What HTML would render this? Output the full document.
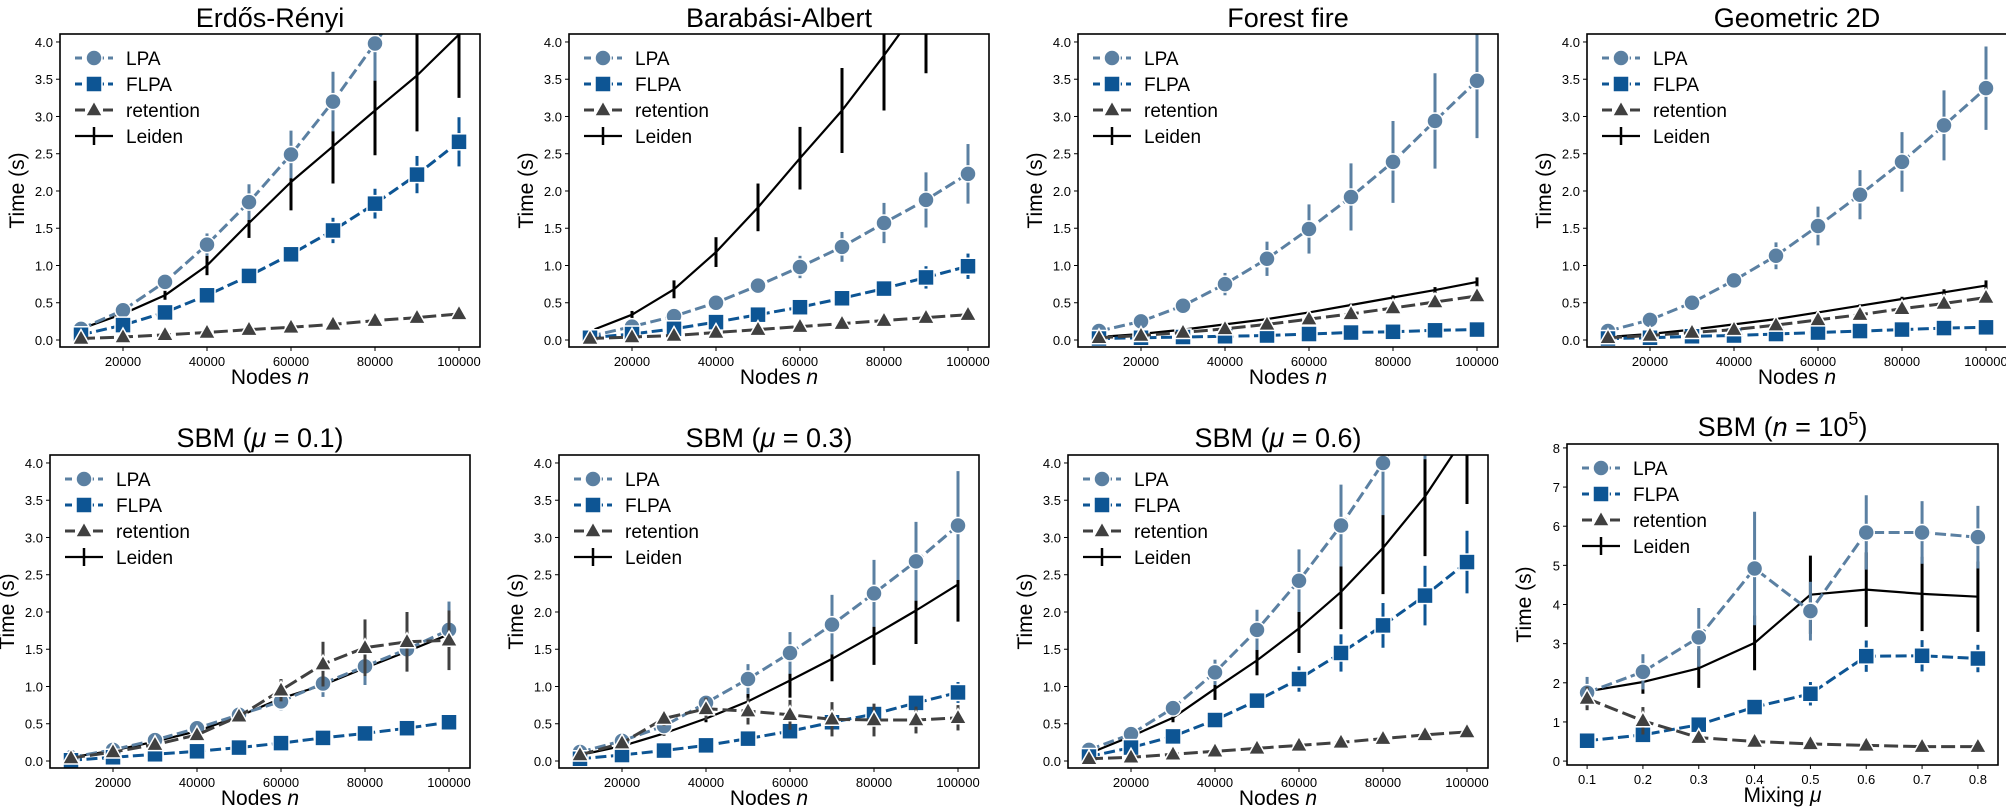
<!DOCTYPE html>
<html><head><meta charset="utf-8"><style>
html,body{margin:0;padding:0;background:#fff;}
svg{display:block;font-family:"Liberation Sans",sans-serif;}
</style></head><body>
<svg id="fig" width="2006" height="812" viewBox="0 0 2006 812" xmlns="http://www.w3.org/2000/svg"></svg>
<script>
// ---------- DATA ----------
const nodes = [10000,20000,30000,40000,50000,60000,70000,80000,90000,100000];
const mixing = [0.1,0.2,0.3,0.4,0.5,0.6,0.7,0.8];
const seriesNames = ["LPA","FLPA","retention","Leiden"];
const titles = ["Erdős-Rényi","Barabási-Albert","Forest fire","Geometric 2D","SBM (μ = 0.1)","SBM (μ = 0.3)","SBM (μ = 0.6)","SBM (n = 10^5)"];
const yTicksTime = [0,0.5,1,1.5,2,2.5,3,3.5,4];
const yTicksMix = [0,1,2,3,4,5,6,7,8];
const xTicksNodes = [20000,40000,60000,80000,100000];

// Erdős-Rényi
const er_lpa = [0.15,0.40,0.78,1.28,1.85,2.49,3.20,3.98,4.8,5.6];
const er_lpa_err = [0.03,0.04,0.06,0.15,0.24,0.32,0.40,0.50,0.6,0.7];
const er_flpa = [0.07,0.20,0.37,0.60,0.86,1.15,1.47,1.83,2.22,2.66];
const er_flpa_err = [0.01,0.02,0.03,0.04,0.06,0.1,0.17,0.2,0.25,0.33];
const er_ret = [0.02,0.04,0.07,0.10,0.14,0.17,0.21,0.26,0.30,0.35];
const er_ret_err = [0,0,0,0,0,0,0,0,0,0];
const er_lei = [0.15,0.35,0.60,1.00,1.57,2.12,2.60,3.08,3.55,4.10];
const er_lei_err = [0.02,0.04,0.06,0.13,0.2,0.38,0.5,0.6,0.75,0.85];
// Barabási-Albert
const ba_lpa = [0.05,0.18,0.32,0.50,0.73,0.98,1.25,1.57,1.88,2.23];
const ba_lpa_err = [0.01,0.02,0.03,0.05,0.08,0.15,0.2,0.27,0.37,0.4];
const ba_flpa = [0.03,0.08,0.15,0.24,0.34,0.44,0.56,0.69,0.84,0.99];
const ba_flpa_err = [0,0.01,0.02,0.03,0.04,0.06,0.08,0.1,0.15,0.17];
const ba_ret = [0.02,0.04,0.06,0.10,0.14,0.18,0.22,0.26,0.30,0.34];
const ba_ret_err = [0,0,0,0,0,0,0,0,0,0];
const ba_lei = [0.12,0.34,0.68,1.18,1.78,2.44,3.08,3.82,4.6,5.5];
const ba_lei_err = [0.02,0.05,0.12,0.2,0.32,0.42,0.57,0.74,1.02,1.2];
// Forest fire
const ff_lpa = [0.12,0.25,0.46,0.75,1.09,1.49,1.92,2.39,2.94,3.48];
const ff_lpa_err = [0.02,0.03,0.05,0.15,0.23,0.33,0.45,0.55,0.64,0.77];
const ff_flpa = [0.02,0.03,0.04,0.05,0.06,0.08,0.10,0.11,0.13,0.14];
const ff_flpa_err = [0,0,0,0,0,0,0,0,0,0];
const ff_ret = [0.03,0.06,0.10,0.15,0.21,0.28,0.35,0.43,0.51,0.59];
const ff_ret_err = [0,0,0,0,0,0,0,0,0,0];
const ff_lei = [0.04,0.08,0.14,0.21,0.28,0.37,0.47,0.57,0.67,0.78];
const ff_lei_err = [0,0,0,0.01,0.01,0.02,0.02,0.03,0.04,0.06];
// Geometric 2D
const geo_lpa = [0.12,0.27,0.50,0.80,1.13,1.53,1.95,2.39,2.88,3.38];
const geo_lpa_err = [0.02,0.03,0.04,0.06,0.18,0.26,0.33,0.4,0.47,0.56];
const geo_flpa = [0.02,0.03,0.05,0.06,0.08,0.10,0.12,0.14,0.16,0.17];
const geo_flpa_err = [0,0,0,0,0,0,0,0,0,0];
const geo_ret = [0.03,0.06,0.10,0.14,0.20,0.27,0.34,0.42,0.49,0.57];
const geo_ret_err = [0,0,0,0,0,0,0,0,0,0];
const geo_lei = [0.04,0.08,0.14,0.21,0.28,0.37,0.46,0.55,0.64,0.73];
const geo_lei_err = [0,0,0,0.01,0.01,0.02,0.02,0.03,0.04,0.07];
// SBM mu=0.1
const s1_lpa = [0.05,0.15,0.28,0.44,0.62,0.80,1.04,1.27,1.50,1.76];
const s1_lpa_err = [0.01,0.03,0.04,0.06,0.08,0.12,0.18,0.25,0.3,0.38];
const s1_flpa = [0.01,0.05,0.09,0.13,0.18,0.24,0.31,0.37,0.44,0.52];
const s1_flpa_err = [0,0,0,0,0,0,0,0,0,0];
const s1_ret = [0.04,0.12,0.22,0.35,0.60,0.95,1.30,1.52,1.60,1.62];
const s1_ret_err = [0.01,0.02,0.03,0.04,0.06,0.15,0.3,0.38,0.4,0.4];
const s1_lei = [0.05,0.14,0.26,0.40,0.60,0.84,1.02,1.25,1.47,1.70];
const s1_lei_err = [0,0,0,0,0,0,0,0,0,0];
// SBM mu=0.3
const s3_lpa = [0.12,0.27,0.47,0.78,1.10,1.45,1.83,2.25,2.68,3.16];
const s3_lpa_err = [0.02,0.03,0.05,0.1,0.2,0.28,0.4,0.45,0.53,0.73];
const s3_flpa = [0.03,0.08,0.14,0.21,0.30,0.40,0.52,0.63,0.78,0.92];
const s3_flpa_err = [0,0,0,0.01,0.02,0.03,0.04,0.06,0.1,0.14];
const s3_ret = [0.08,0.24,0.57,0.70,0.67,0.62,0.56,0.55,0.55,0.58];
const s3_ret_err = [0.02,0.04,0.1,0.15,0.18,0.2,0.23,0.22,0.18,0.17];
const s3_lei = [0.08,0.20,0.37,0.57,0.80,1.08,1.37,1.69,2.02,2.37];
const s3_lei_err = [0.01,0.02,0.03,0.05,0.1,0.23,0.3,0.4,0.45,0.5];
// SBM mu=0.6
const s6_lpa = [0.15,0.36,0.71,1.19,1.76,2.42,3.16,4.0,4.9,5.8];
const s6_lpa_err = [0.02,0.04,0.08,0.17,0.27,0.42,0.55,0.7,0.85,1.0];
const s6_flpa = [0.06,0.18,0.33,0.55,0.81,1.10,1.45,1.82,2.22,2.67];
const s6_flpa_err = [0.01,0.02,0.04,0.06,0.1,0.17,0.25,0.3,0.4,0.42];
const s6_ret = [0.03,0.05,0.09,0.13,0.17,0.21,0.25,0.30,0.35,0.39];
const s6_ret_err = [0,0,0,0,0,0,0,0,0,0];
const s6_lei = [0.10,0.33,0.58,0.97,1.35,1.78,2.27,2.86,3.55,4.4];
const s6_lei_err = [0.01,0.04,0.06,0.15,0.2,0.33,0.5,0.62,0.8,0.95];
// SBM n=10^5 vs mixing
const sm_lpa = [1.75,2.28,3.16,4.92,3.83,5.84,5.84,5.72];
const sm_lpa_err = [0.4,0.45,0.75,1.45,0.75,0.95,0.8,0.8];
const sm_flpa = [0.52,0.67,0.93,1.38,1.72,2.68,2.69,2.62];
const sm_flpa_err = [0.05,0.08,0.12,0.15,0.3,0.4,0.4,0.35];
const sm_ret = [1.60,1.03,0.60,0.50,0.44,0.40,0.37,0.37];
const sm_ret_err = [0.3,0.35,0.05,0.03,0.03,0.03,0.03,0.03];
const sm_lei = [1.78,2.02,2.37,3.02,4.25,4.38,4.27,4.20];
const sm_lei_err = [0.1,0.3,0.5,0.7,1.0,0.95,0.95,0.9];

// ---------- LAYOUT ----------
const panels = [
 {x:nodes, s:[[er_lpa,er_lpa_err],[er_flpa,er_flpa_err],[er_ret,er_ret_err],[er_lei,er_lei_err]], L:60,T:34,W:420,H:313,xl:[5000,105000],yl:[-0.094,4.107],xt:xTicksNodes,yt:yTicksTime,ty:27,xlab:"nodes"},
 {x:nodes, s:[[ba_lpa,ba_lpa_err],[ba_flpa,ba_flpa_err],[ba_ret,ba_ret_err],[ba_lei,ba_lei_err]], L:569,T:34,W:420,H:313,xl:[5000,105000],yl:[-0.094,4.107],xt:xTicksNodes,yt:yTicksTime,ty:27,xlab:"nodes"},
 {x:nodes, s:[[ff_lpa,ff_lpa_err],[ff_flpa,ff_flpa_err],[ff_ret,ff_ret_err],[ff_lei,ff_lei_err]], L:1078,T:34,W:420,H:313,xl:[5000,105000],yl:[-0.094,4.107],xt:xTicksNodes,yt:yTicksTime,ty:27,xlab:"nodes"},
 {x:nodes, s:[[geo_lpa,geo_lpa_err],[geo_flpa,geo_flpa_err],[geo_ret,geo_ret_err],[geo_lei,geo_lei_err]], L:1587,T:34,W:420,H:313,xl:[5000,105000],yl:[-0.094,4.107],xt:xTicksNodes,yt:yTicksTime,ty:27,xlab:"nodes"},
 {x:nodes, s:[[s1_lpa,s1_lpa_err],[s1_flpa,s1_flpa_err],[s1_ret,s1_ret_err],[s1_lei,s1_lei_err]], L:50,T:455,W:420,H:313,xl:[5000,105000],yl:[-0.094,4.107],xt:xTicksNodes,yt:yTicksTime,ty:447,xlab:"nodes"},
 {x:nodes, s:[[s3_lpa,s3_lpa_err],[s3_flpa,s3_flpa_err],[s3_ret,s3_ret_err],[s3_lei,s3_lei_err]], L:559,T:455,W:420,H:313,xl:[5000,105000],yl:[-0.094,4.107],xt:xTicksNodes,yt:yTicksTime,ty:447,xlab:"nodes"},
 {x:nodes, s:[[s6_lpa,s6_lpa_err],[s6_flpa,s6_flpa_err],[s6_ret,s6_ret_err],[s6_lei,s6_lei_err]], L:1068,T:455,W:420,H:313,xl:[5000,105000],yl:[-0.094,4.107],xt:xTicksNodes,yt:yTicksTime,ty:447,xlab:"nodes"},
 {x:mixing, s:[[sm_lpa,sm_lpa_err],[sm_flpa,sm_flpa_err],[sm_ret,sm_ret_err],[sm_lei,sm_lei_err]], L:1567,T:444,W:431,H:321,xl:[0.064,0.836],yl:[-0.1,8.1],xt:mixing,yt:yTicksMix,ty:436,xlab:"mixing"}
];
const styles = [
 {c:"#5b80a2", dash:"11,4.5", w:3, m:"circle"},
 {c:"#0d5594", dash:"11,4.5", w:3, m:"square"},
 {c:"#404040", dash:"14,5", w:3, m:"triangle"},
 {c:"#000000", dash:"", w:2.2, m:"none"}
];
const NS="http://www.w3.org/2000/svg";
const svg=document.getElementById('fig');
function mk(tag,attrs,parent){const e=document.createElementNS(NS,tag);for(const k in attrs)e.setAttribute(k,attrs[k]);(parent||svg).appendChild(e);return e;}
function marker(g,type,cx,cy,col){
  let e;
  if(type==="circle") e=mk('circle',{cx:cx,cy:cy,r:8,fill:col,stroke:'#fff','stroke-width':1.5},g);
  else if(type==="square") e=mk('rect',{x:cx-8,y:cy-8,width:16,height:16,fill:col,stroke:'#fff','stroke-width':1.5},g);
  else if(type==="triangle") e=mk('polygon',{points:`${cx},${cy-9} ${cx+8.5},${cy+6} ${cx-8.5},${cy+6}`,fill:col,stroke:'#fff','stroke-width':1.5},g);
  return e;
}
panels.forEach((p,pi)=>{
  const g=mk('g',{});
  
  
  const sx=v=>p.L+(v-p.xl[0])/(p.xl[1]-p.xl[0])*p.W;
  const sy=v=>p.T+p.H-(v-p.yl[0])/(p.yl[1]-p.yl[0])*p.H;
  const cid='clip'+pi;
  const cp=mk('clipPath',{id:cid},g); mk('rect',{x:p.L,y:p.T,width:p.W,height:p.H},cp);
  const t=mk('text',{x:p.L+p.W/2,y:p.ty,'text-anchor':'middle','font-size':27,fill:'#000'},g);
  
  
  const tt=titles[pi];
  if(tt.indexOf('μ')>=0){ const parts=tt.split('μ'); t.appendChild(document.createTextNode(parts[0])); const it=mk('tspan',{'font-style':'italic'},t); it.textContent='μ'; t.appendChild(document.createTextNode(parts[1])); }
  else if(tt.indexOf('^')>=0){ t.appendChild(document.createTextNode('SBM (')); const it=mk('tspan',{'font-style':'italic'},t); it.textContent='n'; t.appendChild(document.createTextNode(' = 10')); const sup=mk('tspan',{'font-size':18,dy:-11},t); sup.textContent='5'; const cl=mk('tspan',{dy:11},t); cl.textContent=')'; }
  else t.textContent=tt;
  p.yt.forEach(v=>{
    const y=sy(v);
    mk('line',{x1:p.L-4,x2:p.L,y1:y,y2:y,stroke:'#000','stroke-width':1},g);
    const l=mk('text',{x:p.L-7,y:y+5,'text-anchor':'end','font-size':13},g);
    
    
    l.textContent = p.xlab==="mixing" ? String(v) : v.toFixed(1);
  });
  p.xt.forEach(v=>{
    const x=sx(v);
    mk('line',{x1:x,x2:x,y1:p.T+p.H,y2:p.T+p.H+4,stroke:'#000','stroke-width':1},g);
    const l=mk('text',{x:x,y:p.T+p.H+19,'text-anchor':'middle','font-size':13},g);
    
    
    l.textContent=String(v);
  });
  const xl=mk('text',{x:p.L+p.W/2,y:p.T+p.H+37,'text-anchor':'middle','font-size':21},g);
  
  
  xl.appendChild(document.createTextNode(p.xlab==="mixing"?'Mixing ':'Nodes '));
  const xi=mk('tspan',{'font-style':'italic'},xl); xi.textContent=p.xlab==="mixing"?'μ':'n';
  const yl=mk('text',{x:0,y:0,'text-anchor':'middle','font-size':21,transform:`translate(${p.L-36},${p.T+p.H/2}) rotate(-90)`},g);
  
  
  yl.textContent='Time (s)';
  const order=[3,0,1,2];
  const dg=mk('g',{'clip-path':`url(#${cid})`},g);
  order.forEach(si=>{
    const st=styles[si]; const vals=p.s[si][0], errs=p.s[si][1];
    const sg=mk('g',{},dg);
    
    
    vals.forEach((v,i)=>{ if(errs[i]>0){ const eb=mk('line',{x1:sx(p.x[i]),x2:sx(p.x[i]),y1:sy(v-errs[i]),y2:sy(v+errs[i]),stroke:st.c,'stroke-width':3},sg);
      
       }});
    const pts=vals.map((v,i)=>sx(p.x[i]).toFixed(1)+','+sy(v).toFixed(1)).join(' ');
    const pl=mk('polyline',{points:pts,fill:'none',stroke:st.c,'stroke-width':st.w,'stroke-dasharray':st.dash,'stroke-linejoin':'round'},sg);
    
    
    vals.forEach((v,i)=>{ const m=marker(sg,st.m,sx(p.x[i]),sy(v),st.c); if(m){
      
       }});
  });
  const fr=mk('rect',{x:p.L,y:p.T,width:p.W,height:p.H,fill:'none',stroke:'#000','stroke-width':1.6},g);
  
  
  const lg=mk('g',{},g);
  
  
  seriesNames.forEach((nm,si)=>{
    const st=styles[si]; const y=p.T+24+si*26; const x0=p.L+15;
    const eg=mk('g',{},lg);
    
    
    mk('line',{x1:x0,x2:x0+38,y1:y,y2:y,stroke:st.c,'stroke-width':st.w,'stroke-dasharray':st.m==="none"?"":(si===2?"10,4":"7,4")},eg);
    if(st.m==="none") mk('line',{x1:x0+19,x2:x0+19,y1:y-9,y2:y+9,stroke:st.c,'stroke-width':2.5},eg);
    else marker(eg,st.m,x0+19,y,st.c);
    const tx=mk('text',{x:p.L+66,y:y+7,'font-size':19},eg);
    tx.textContent=nm;
  });
});
</script>
</body></html>
